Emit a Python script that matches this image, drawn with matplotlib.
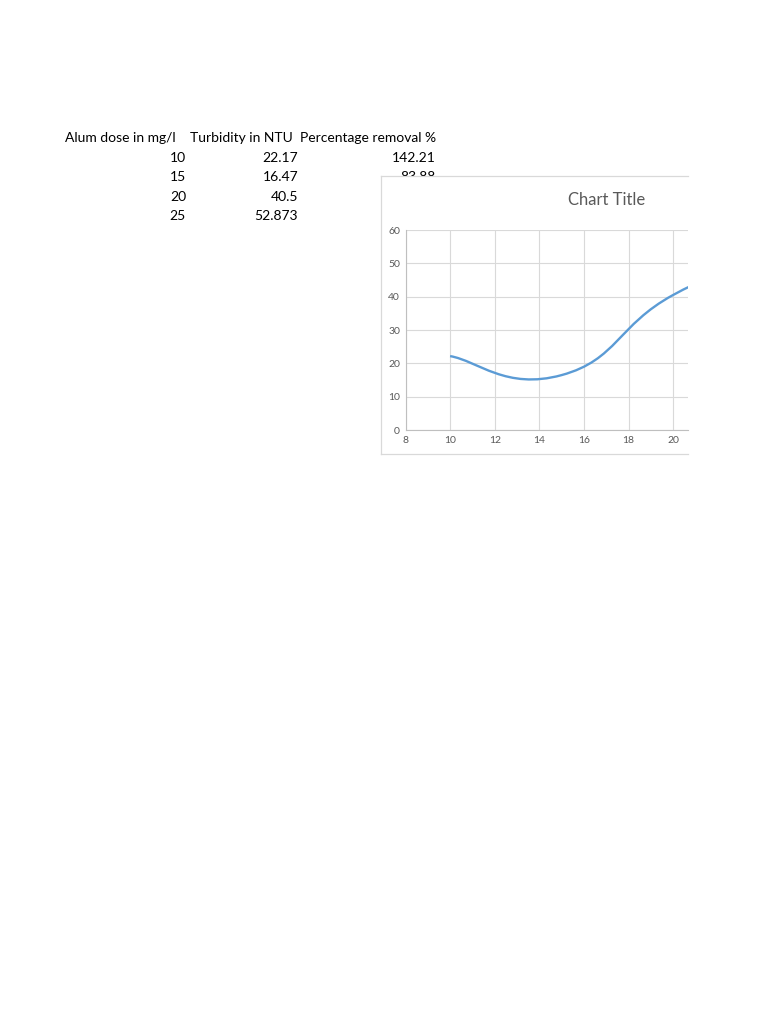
import numpy as np
import matplotlib
matplotlib.use("Agg")
import matplotlib.pyplot as plt
from matplotlib.path import Path
from matplotlib.patches import PathPatch

# sheet data
headers = ["Alum dose in mg/l", "Turbidity in NTU", "Percentage removal %"]
alum_dose = [10, 15, 20, 25]
turbidity = ["22.17", "16.47", "40.5", "52.873"]
removal = ["142.21", "83.88", "", ""]

x_vals = [10, 15, 20, 25]
y_vals = [22.17, 16.47, 40.5, 52.873]

W, H = 768, 1024
fig = plt.figure(figsize=(7.68, 10.24), dpi=100)
fig.patch.set_facecolor("white")

def fx(px):
    return px / W

def fy(py):
    return 1 - py / H

font = "Lato"
fs = 10

# table
fig.text(fx(65), fy(138), headers[0], fontsize=fs, family=font, va="center", ha="left")
fig.text(fx(190), fy(138), headers[1], fontsize=fs, family=font, va="center", ha="left")
fig.text(fx(300), fy(138), headers[2], fontsize=fs, family=font, va="center", ha="left")
row_y = [158, 177, 197, 216]
for i, ry in enumerate(row_y):
    fig.text(fx(186), fy(ry), str(alum_dose[i]), fontsize=fs, family=font, va="center", ha="right")
    fig.text(fx(298), fy(ry), turbidity[i], fontsize=fs, family=font, va="center", ha="right")
    if removal[i]:
        fig.text(fx(436), fy(ry), removal[i], fontsize=fs, family=font, va="center", ha="right", zorder=0)

# chart frame (white box over the sheet)
frame_ax = fig.add_axes([fx(381), fy(454), fx(688) - fx(381), fy(176) - fy(454)])
frame_ax.set_xlim(0, 1)
frame_ax.set_ylim(0, 1)
frame_ax.set_facecolor("white")
frame_ax.set_xticks([])
frame_ax.set_yticks([])
for s in ["top", "left", "bottom"]:
    frame_ax.spines[s].set_color("#d9d9d9")
    frame_ax.spines[s].set_linewidth(0.9)
frame_ax.spines["right"].set_visible(False)
frame_ax.set_zorder(1)

fig.text(fx(607), fy(200), "Chart Title", fontsize=12, family=font, color="#595959",
         ha="center", va="center", zorder=5)

# plot area
ax = fig.add_axes([fx(405.5), fy(430), fx(688) - fx(405.5), fy(230) - fy(430)])
ax.set_zorder(2)
ax.patch.set_visible(False)
ax.set_xlim(8, 8 + (688 - 405.5) / 22.3)
ax.set_ylim(0, 60)
ax.set_xticks([8, 10, 12, 14, 16, 18, 20])
ax.set_yticks([0, 10, 20, 30, 40, 50, 60])
ax.grid(True, color="#d9d9d9", linewidth=0.8)
ax.set_axisbelow(True)
for s in ["top", "right"]:
    ax.spines[s].set_visible(False)
for s in ["left", "bottom"]:
    ax.spines[s].set_color("#bfbfbf")
    ax.spines[s].set_linewidth(0.8)
ax.tick_params(length=0, labelsize=7.5, labelcolor="#595959", pad=4)
for lab in ax.get_xticklabels() + ax.get_yticklabels():
    lab.set_family(font)

# smoothed line (Excel-style bezier)
t = 0.25
pts = list(zip(x_vals, y_vals))
verts = [pts[0]]
codes = [Path.MOVETO]
n = len(pts)
for i in range(n - 1):
    p0 = pts[i - 1] if i > 0 else pts[i]
    p1 = pts[i]
    p2 = pts[i + 1]
    p3 = pts[i + 2] if i + 2 < n else pts[i + 1]
    c1 = (p1[0] + (p2[0] - p0[0]) * t, p1[1] + (p2[1] - p0[1]) * t)
    c2 = (p2[0] - (p3[0] - p1[0]) * t, p2[1] - (p3[1] - p1[1]) * t)
    verts += [c1, c2, p2]
    codes += [Path.CURVE4] * 3
patch = PathPatch(Path(verts, codes), facecolor="none", edgecolor="#5b9bd5", linewidth=1.7,
                  capstyle="butt", joinstyle="round")
ax.add_patch(patch)

fig.savefig("out.png", dpi=100, facecolor="white")
